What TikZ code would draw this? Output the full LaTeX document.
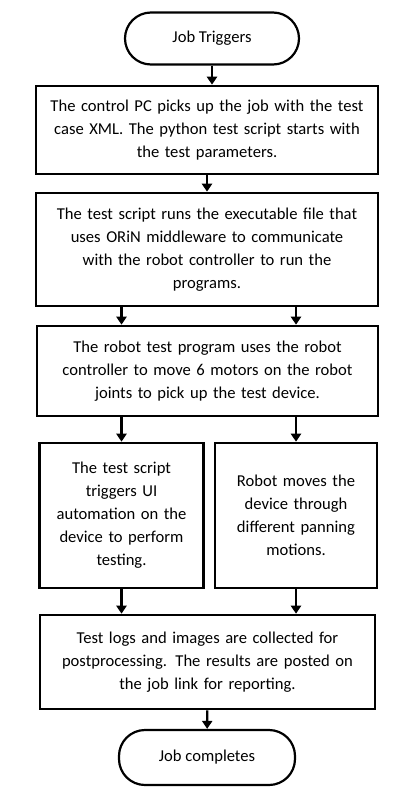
\documentclass[tikz,border=0pt]{standalone}
\usepackage{fontspec}
\setmainfont{Carlito}
\usetikzlibrary{arrows.meta}

\tikzset{
  x=1pt, y=-1pt,
  box/.style={draw, line width=2.6pt, align=center, inner sep=0pt,
    font=\fontsize{16.6}{23}\selectfont},
  term/.style={draw, line width=2.2pt, rounded corners=26pt, align=center,
    inner sep=0pt, font=\fontsize{16.6}{23}\selectfont},
  arr/.style={line width=2.4pt, -{Triangle[length=8pt,width=10pt]}}
}

\begin{document}
\begin{tikzpicture}
        \useasboundingbox (0,0) rectangle (413,798);

        % Start und Ende
        \node[term, minimum width=174pt, minimum height=52pt] (start) at (212,38.5) {Job Triggers};
        \node[term, minimum width=176pt, minimum height=55pt] (ende) at (207,757.5) {Job completes};

        % Kaesten
        \node[box, minimum width=342pt, minimum height=88pt, text width=334pt] (b1) at (207,130)
            {The control PC picks up the job with the test\\case XML. The python test script starts with\\the test parameters.};
        \node[box, minimum width=342pt, minimum height=113pt, text width=334pt] (b2) at (207,249.5)
            {The test script runs the executable file that\\uses ORiN middleware to communicate\\with the robot controller to run the\\programs.};
        \node[box, minimum width=341pt, minimum height=90pt, text width=334pt] (b3) at (207.5,371)
            {The robot test program uses the robot\\controller to move 6 motors on the robot\\joints to pick up the test device.};
        \node[box, minimum width=164pt, minimum height=145pt, text width=156pt] (bl) at (121.5,515.5)
            {The test script\\triggers UI\\automation on the\\device to perform\\testing.};
        \node[box, minimum width=162pt, minimum height=145pt, text width=154pt] (br) at (296,515.5)
            {Robot moves the\\device through\\different panning\\motions.};
        \node[box, minimum width=335pt, minimum height=94pt, text width=327pt] (b4) at (207.5,662)
            {Test logs and images are collected for\\postprocessing. The results are posted on\\the job link for reporting.};

        % Pfeile
        \draw[arr] (start) -- (start |- b1.north);
        \draw[arr] (b1) -- (b2);
        \foreach \k in {bl,br} {
            \draw[arr] (b2.south -| \k) -- (b3.north -| \k); % oben
            \draw[arr] (b3.south -| \k) -- (\k.north);
            \draw[arr] (\k.south) -- (b4.north -| \k); % unten
        }
        \draw[arr] (b4) -- (ende);
    \end{tikzpicture}
\end{document}
